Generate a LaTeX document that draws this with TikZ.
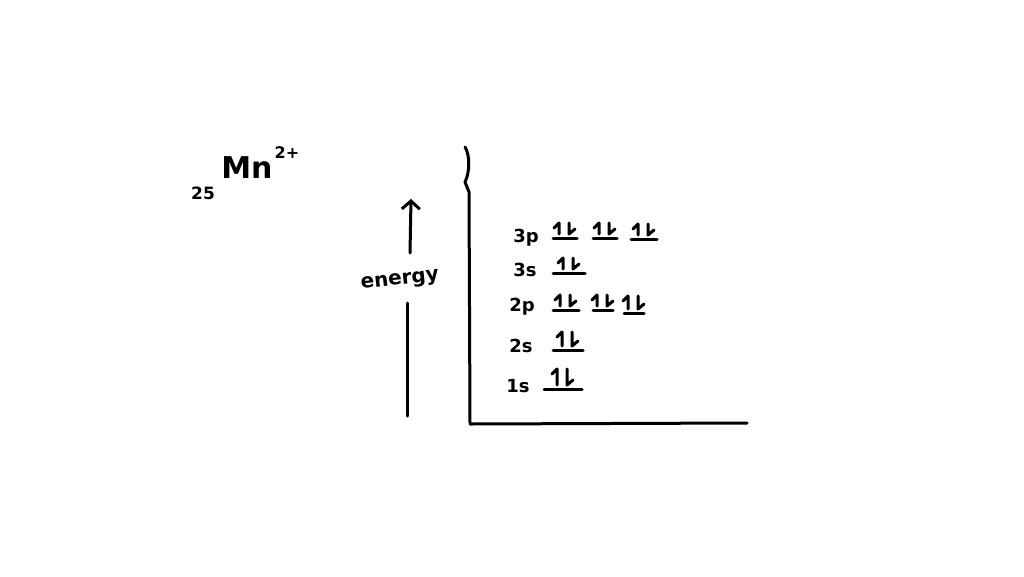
\documentclass[tikz,border=0pt]{standalone}
\usepackage{fontspec}
\setmainfont{DejaVu Sans}
\usetikzlibrary{arrows.meta}
\tikzset{
  ink/.style={line width=3pt, line cap=round, line join=round, black},
  lbl/.style={inner sep=0pt, font=\fontsize{18}{20}\selectfont\bfseries},
}
% #1 centre x, #2 line y, #3 half width, #4 arrow height
\newcommand\orbital[4]{%
  \begin{scope}[shift={(#1,#2)}]
    \draw[ink] (-#3,0) -- (#3,0);
    \draw[ink] (-6,-4) -- (-6,-4-#4) -- (-11,-4-#4+5);
    \draw[ink] (4,-4-#4) -- (4,-4) -- (10,-9);
  \end{scope}}
\begin{document}
\begin{tikzpicture}[x=1pt,y=-1pt]
\useasboundingbox (0,0) rectangle (1024,576);
\fill[white] (0,0) rectangle (1024,576);
% element symbol
\node[inner sep=0pt, font=\fontsize{30}{32}\selectfont\bfseries] (mn) at (247,168) {Mn};
\node[inner sep=0pt, font=\fontsize{16}{18}\selectfont\bfseries] (chg) at (287,153) {2+};
\node[inner sep=0pt, font=\fontsize{17}{19}\selectfont\bfseries] (z) at (203,193) {25};
% energy arrow
\node[inner sep=0pt, rotate=6, font=\fontsize{20}{22}\selectfont\bfseries] (en) at (400,281) {energy};
\coordinate (ebot) at (407,416);
\coordinate (elow) at (407,303);
\coordinate (ehigh) at (410,253);
\coordinate (etop) at (411,199);
\draw[ink] (ebot) -- (elow);
\draw[ink, -{Straight Barb[length=8pt,width=18pt]}] (ehigh) -- (etop);
% axes
\coordinate (ytop) at (465,147);
\coordinate (orig) at (470,424);
\coordinate (xend) at (747,423);
\draw[ink] (ytop) .. controls (470,155) and (470,172) .. (465,182) -- (469,192) -- (orig) -- (xend);
% level labels
\node[lbl] (l3p) at (526,238) {3p};
\node[lbl] (l3s) at (525,270) {3s};
\node[lbl] (l2p) at (522,307) {2p};
\node[lbl] (l2s) at (521,346) {2s};
\node[lbl] (l1s) at (518,386) {1s};
% orbitals
\orbital{565}{238}{12}{11}
\orbital{605}{238}{12}{11}
\orbital{644}{239}{13}{11}
\orbital{569}{273}{16}{11}
\orbital{566}{310}{13}{11}
\orbital{603}{310}{10}{11}
\orbital{634}{313}{10}{13}
\orbital{568}{350}{15}{14}
\orbital{563}{389}{19}{16}
\end{tikzpicture}
\end{document}
